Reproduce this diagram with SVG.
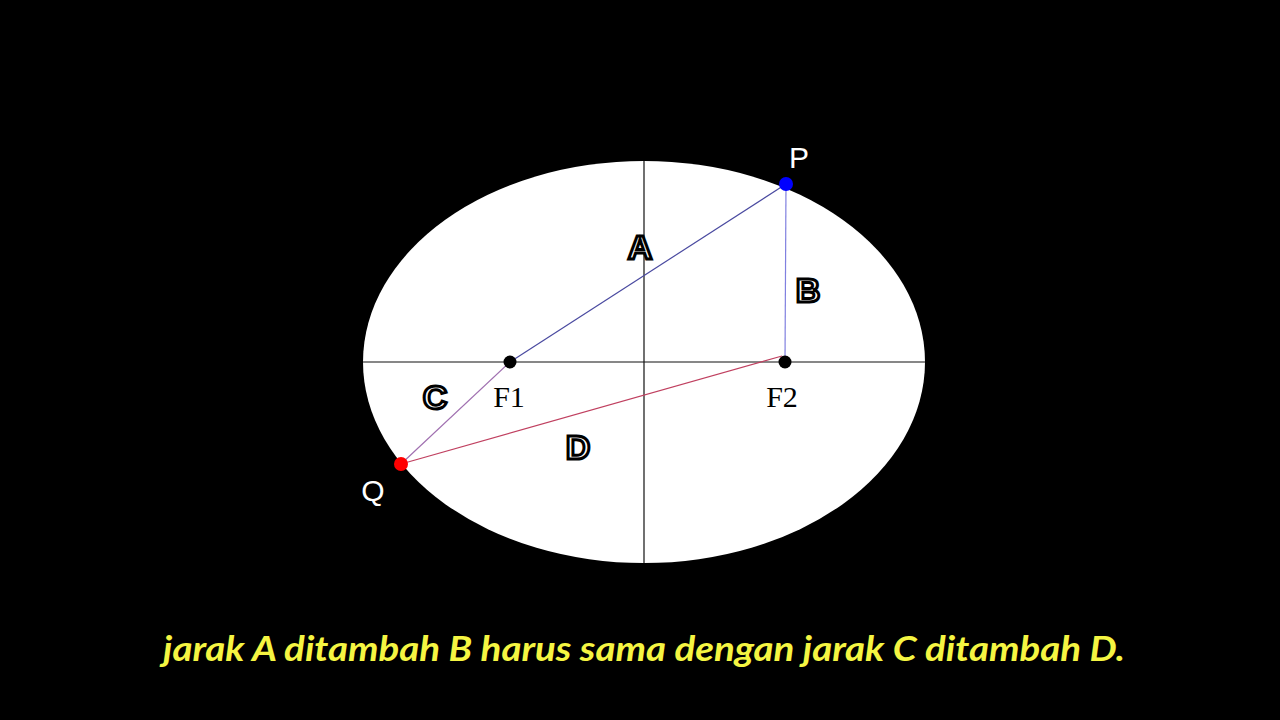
<svg xmlns="http://www.w3.org/2000/svg" width="1280" height="720" viewBox="0 0 1280 720">
<style>
.lbl{font-family:"Liberation Sans",Arial,sans-serif;font-weight:bold;font-size:34px;fill:#fff;stroke:#000;stroke-width:3;text-anchor:middle}
.pt{font-family:"Liberation Sans",Arial,sans-serif;font-size:30px;fill:#fff;text-anchor:middle}
.foc{font-family:"Liberation Serif","Times New Roman",serif;font-size:30px;fill:#000;text-anchor:middle}
.axis{stroke:#111;stroke-width:1.2}
</style>
<rect width="1280" height="720" fill="#000"/>
<g id="ellipse">
<ellipse cx="644" cy="362" rx="281" ry="201" fill="#fff"/>
<line class="axis" x1="363" y1="362" x2="925" y2="362"/>
<line class="axis" x1="644" y1="161" x2="644" y2="563"/>
</g>
<g id="connectors" fill="none" stroke-width="1.2">
<line x1="510" y1="362" x2="786" y2="184" stroke="#4a4aa0"/>
<line x1="786" y1="184" x2="785" y2="362" stroke="#8080e0"/>
<line x1="401" y1="464" x2="510" y2="362" stroke="#a070b0"/>
<line x1="401" y1="464" x2="782" y2="356" stroke="#c04060"/>
</g>
<g id="F1"><circle cx="510" cy="362" r="6.5" fill="#000"/><text class="foc" x="509" y="407">F1</text></g>
<g id="F2"><circle cx="785" cy="362" r="6.5" fill="#000"/><text class="foc" x="782" y="407">F2</text></g>
<g id="P"><circle cx="786" cy="184" r="7" fill="#0000ff"/><text class="pt" x="799" y="168">P</text></g>
<g id="Q"><circle cx="401" cy="464" r="7" fill="#ff0000"/><text class="pt" x="373" y="501">Q</text></g>
<g id="labels">
<text class="lbl" x="640" y="259">A</text>
<text class="lbl" x="808" y="302">B</text>
<text class="lbl" x="435" y="409">C</text>
<text class="lbl" x="578" y="459">D</text>
</g>
<text x="644" y="661" font-family="Lato,'Open Sans',sans-serif" font-weight="bold" font-style="italic" font-size="34" fill="#f5f542" text-anchor="middle" textLength="962" lengthAdjust="spacingAndGlyphs">jarak A ditambah B harus sama dengan jarak C ditambah D.</text>
</svg>
